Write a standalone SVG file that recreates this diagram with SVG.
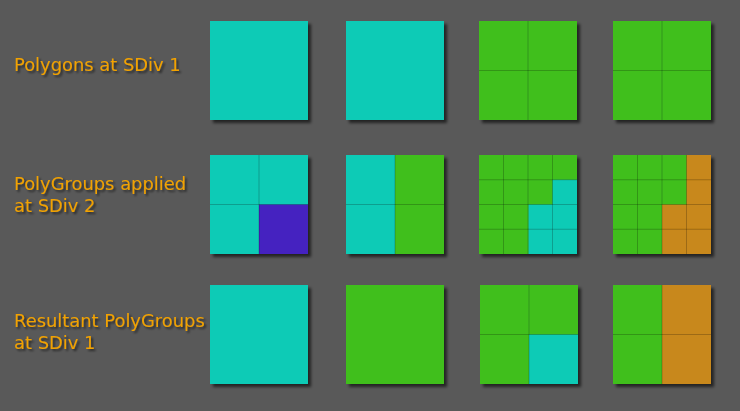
<svg xmlns="http://www.w3.org/2000/svg" width="740" height="411" viewBox="0 0 740 411">
<defs>
<filter id="sq" x="-10%" y="-10%" width="125%" height="125%">
<feDropShadow dx="3" dy="3" stdDeviation="1.5" flood-color="#000" flood-opacity="0.6"/>
</filter>
<filter id="ts" x="-5%" y="-20%" width="115%" height="160%">
<feDropShadow dx="2" dy="2" stdDeviation="1.2" flood-color="#000" flood-opacity="0.55"/>
</filter>
<style>
.c{fill:#0ecbb6}
.g{fill:#3fbf1f}
.p{fill:#4520c0}
.o{fill:#c8881a}
.grid{stroke:#000;stroke-opacity:0.22;stroke-width:1;fill:none}
.lbl{font-family:"DejaVu Sans",Verdana,sans-serif;font-size:17.9px;fill:#f2a200;filter:url(#ts)}
</style>
</defs>
<rect width="740" height="411" fill="#595959"/>

<g id="labels">
<text class="lbl" x="14" y="71">Polygons at SDiv 1</text>
<text class="lbl" x="14" y="190">PolyGroups applied</text>
<text class="lbl" x="14" y="212">at SDiv 2</text>
<text class="lbl" x="14" y="327">Resultant PolyGroups</text>
<text class="lbl" x="14" y="349">at SDiv 1</text>
</g>

<!-- Row 1 -->
<g id="r1c1" filter="url(#sq)"><rect class="c" x="210" y="21" width="98" height="99"/></g>
<g id="r1c2" filter="url(#sq)"><rect class="c" x="346" y="21" width="98" height="99"/></g>
<g id="r1c3" filter="url(#sq)">
<rect class="g" x="479" y="21" width="98" height="99"/>
<path class="grid" d="M528 21V120M479 70.5H577"/>
</g>
<g id="r1c4" filter="url(#sq)">
<rect class="g" x="613" y="21" width="98" height="99"/>
<path class="grid" d="M662 21V120M613 70.5H711"/>
</g>

<!-- Row 2 -->
<g id="r2c1" filter="url(#sq)">
<rect class="c" x="210" y="155" width="98" height="99"/>
<rect class="p" x="259" y="204.5" width="49" height="49.5"/>
<path class="grid" d="M259 155V254M210 204.5H308"/>
</g>
<g id="r2c2" filter="url(#sq)">
<rect class="c" x="346" y="155" width="98" height="99"/>
<rect class="g" x="395" y="155" width="49" height="99"/>
<path class="grid" d="M395 155V254M346 204.5H444"/>
</g>
<g id="r2c3" filter="url(#sq)">
<rect class="g" x="479" y="155" width="98" height="99"/>
<path class="c" d="M552.5 179.75H577V254H528.5V204.5H552.5Z"/>
<path class="grid" d="M503.5 155V254M528 155V254M552.5 155V254M479 179.75H577M479 204.5H577M479 229.25H577"/>
</g>
<g id="r2c4" filter="url(#sq)">
<rect class="g" x="613" y="155" width="98" height="99"/>
<path class="o" d="M686.5 155H711V254H662V204.5H686.5Z"/>
<path class="grid" d="M637.5 155V254M662 155V254M686.5 155V254M613 179.75H711M613 204.5H711M613 229.25H711"/>
</g>

<!-- Row 3 -->
<g id="r3c1" filter="url(#sq)"><rect class="c" x="210" y="285" width="98" height="99"/></g>
<g id="r3c2" filter="url(#sq)"><rect class="g" x="346" y="285" width="98" height="99"/></g>
<g id="r3c3" filter="url(#sq)">
<rect class="g" x="480" y="285" width="98" height="99"/>
<rect class="c" x="529" y="334.5" width="49" height="49.5"/>
<path class="grid" d="M529 285V384M480 334.5H578"/>
</g>
<g id="r3c4" filter="url(#sq)">
<rect class="g" x="613" y="285" width="98" height="99"/>
<rect class="o" x="662" y="285" width="49" height="99"/>
<path class="grid" d="M662 285V384M613 334.5H711"/>
</g>

<g id="connectors"></g>
</svg>
